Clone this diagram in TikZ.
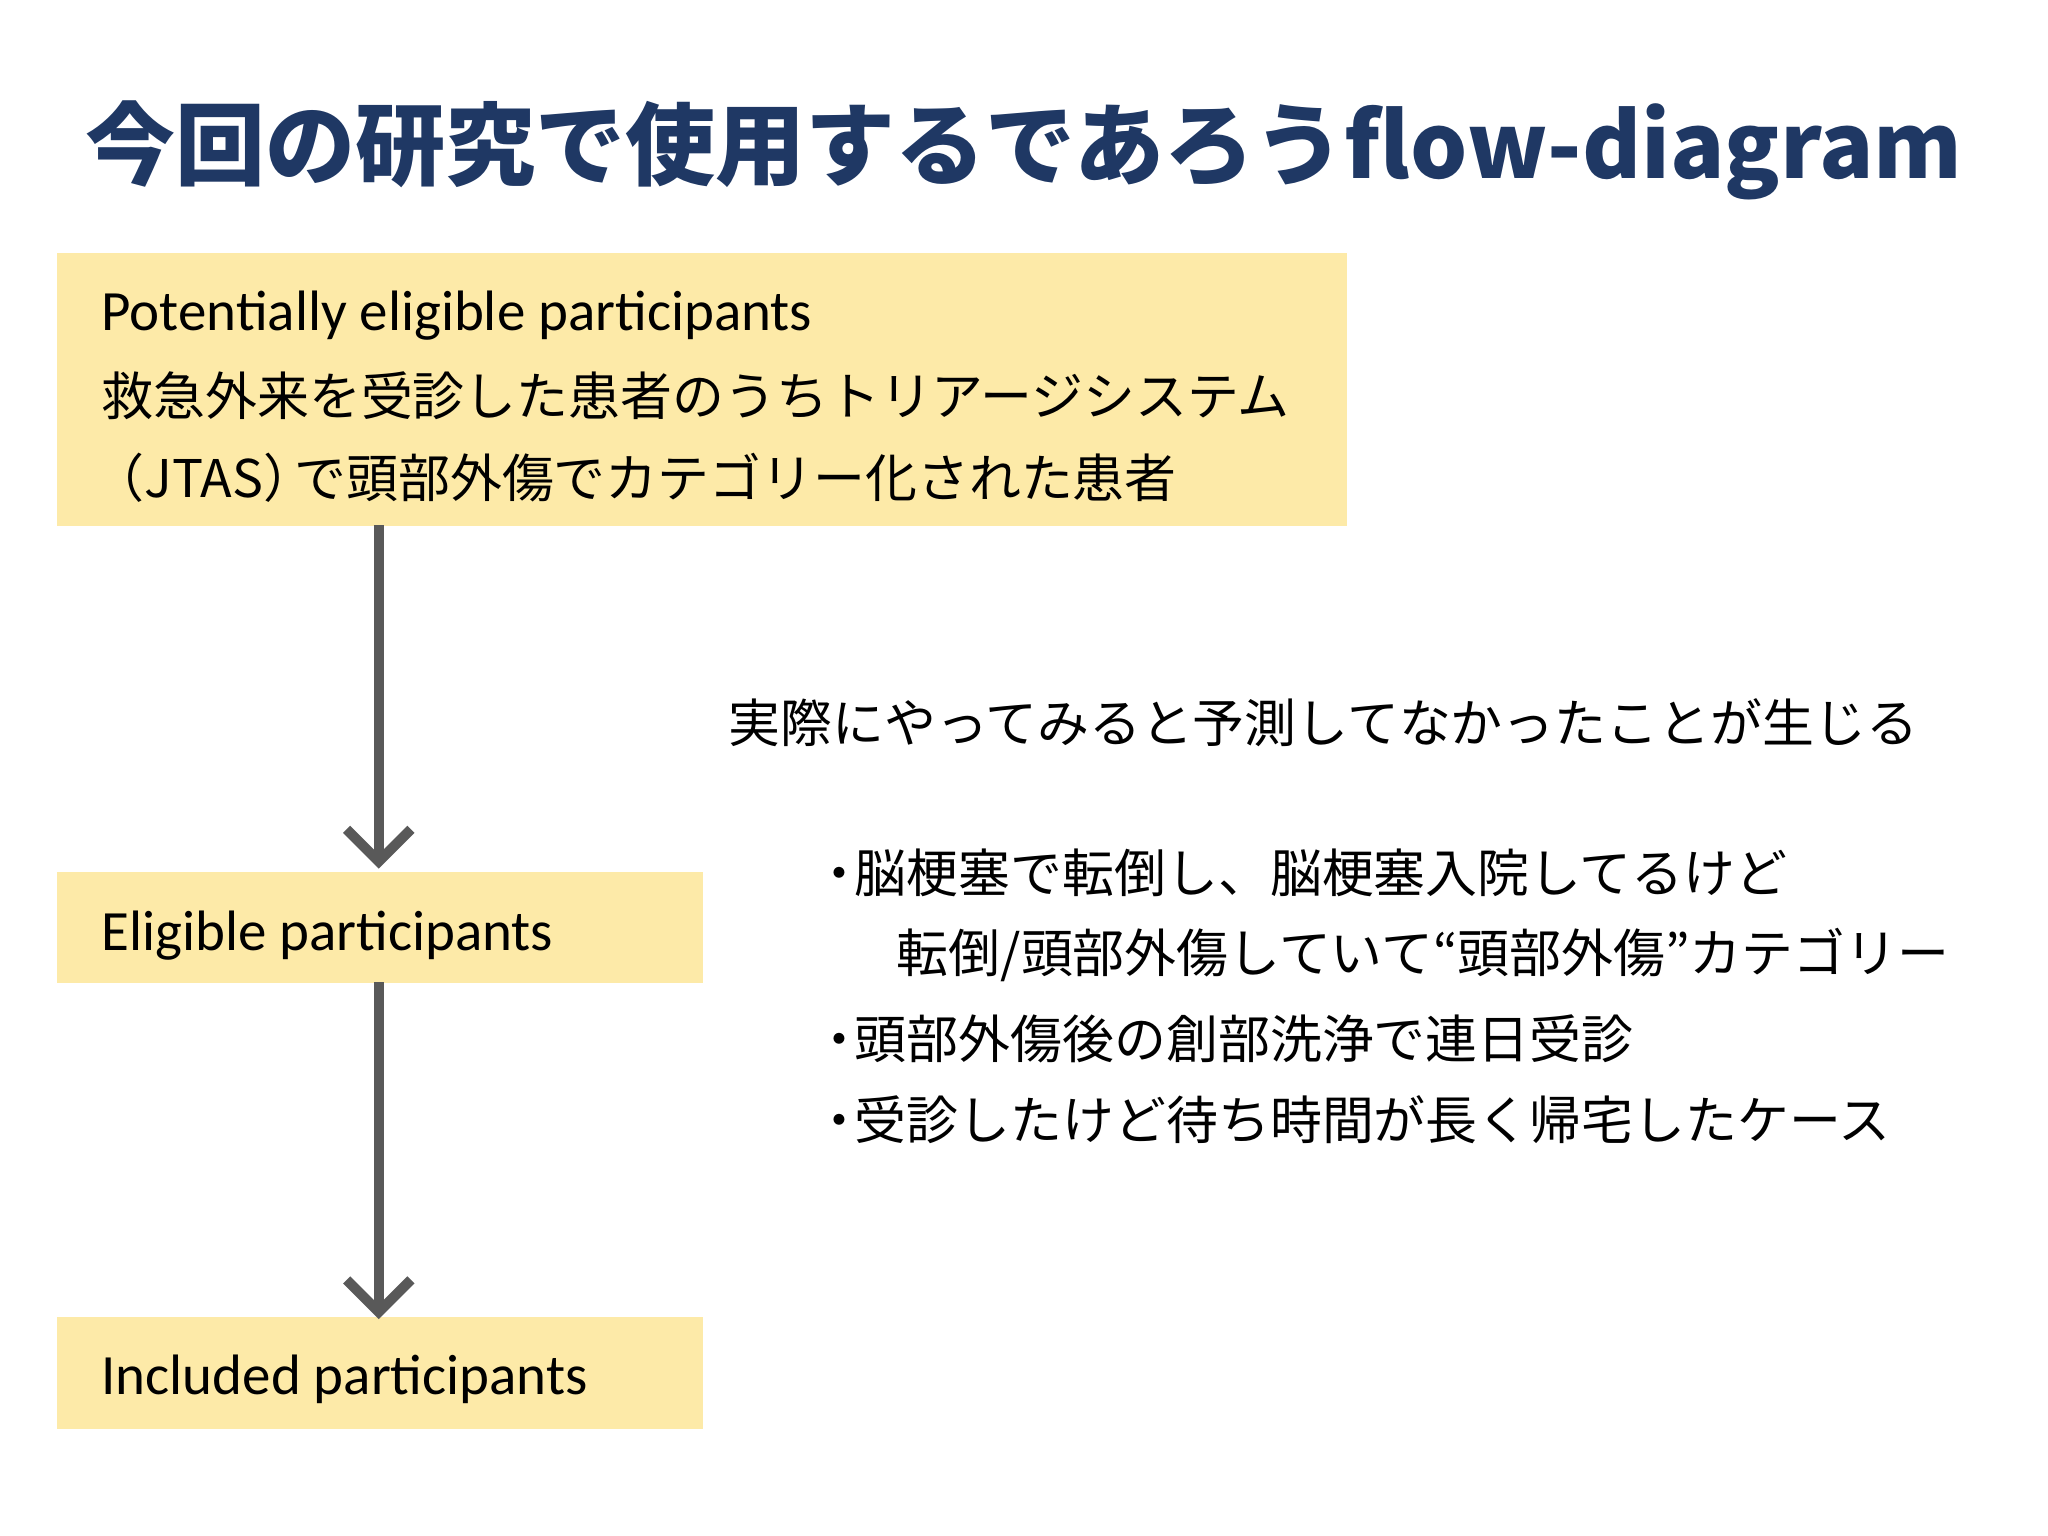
\documentclass[tikz,border=0pt]{standalone}
\usepackage{fontspec}
\setmainfont{Noto Sans CJK JP}
\newfontfamily\lat{Carlito}
\usetikzlibrary{arrows.meta}
\definecolor{boxc}{HTML}{FDEAA8}
\definecolor{navy}{HTML}{1F3864}
\definecolor{arr}{HTML}{595959}
\begin{document}
\begin{tikzpicture}[x=0.01cm,y=-0.01cm,
  box/.style={fill=boxc,draw=none,anchor=north west,inner sep=0pt},
  txt/.style={anchor=west,inner sep=0pt,font=\fontsize{11.3pt}{14pt}\selectfont},
  con/.style={draw=arr,line width=2.2pt,-{Straight Barb[length=7pt,width=14pt,line width=2.2pt]}}]
\useasboundingbox (0,0) rectangle (1568,1176);
\node[anchor=center,text=navy,font=\fontsize{19.6pt}{24pt}\selectfont\bfseries] (title) at (784,115) {今回の研究で使用するであろうflow-diagram};
\node[box,minimum width=9.87cm,minimum height=2.09cm] (b1) at (43,193) {};
\node[box,minimum width=4.94cm,minimum height=0.85cm] (b2) at (43,667) {};
\node[box,minimum width=4.94cm,minimum height=0.85cm] (b3) at (43,1008) {};
\node[txt] (t1) at (77,242) {\lat\fontsize{12.4pt}{14pt}\selectfont Potentially eligible participants};
\node[txt] (t2) at (77,303) {救急外来を受診した患者のうちトリアージシステム};
\node[txt] (t3) at (70,366) {（JTAS）\hspace{-0.4em}で頭部外傷でカテゴリー化された患者};
\node[txt] (t4) at (77,716) {\lat\fontsize{12.4pt}{14pt}\selectfont Eligible participants};
\node[txt] (t5) at (77,1056) {\lat\fontsize{12.4pt}{14pt}\selectfont Included participants};
\coordinate (a1s) at (290,402); \coordinate (a1e) at (290,665);
\coordinate (a2s) at (290,752); \coordinate (a2e) at (290,1010);
\draw[con] (a1s) -- (a1e);
\draw[con] (a2s) -- (a2e);
\node[txt] (r0) at (557,553) {実際にやってみると予測してなかったことが生じる};
\node[txt] (r1) at (622,668) {・\hspace{-0.2em}脳梗塞で転倒し、脳梗塞入院してるけど};
\node[txt] (r2) at (686,731) {転倒/頭部外傷していて“頭部外傷”カテゴリー};
\node[txt] (r3) at (622,795) {・\hspace{-0.2em}頭部外傷後の創部洗浄で連日受診};
\node[txt] (r4) at (622,857) {・\hspace{-0.2em}受診したけど待ち時間が長く帰宅したケース};
\end{tikzpicture}
\end{document}
